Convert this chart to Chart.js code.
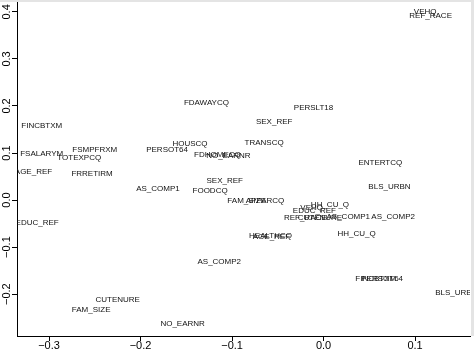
<!DOCTYPE html>
<html>
<head>
<meta charset="utf-8">
<script src="https://cdn.jsdelivr.net/npm/chart.js@4"></script>
<style>
  html, body { margin: 0; padding: 0; background: #fff; }
  canvas { display: block; }
</style>
</head>
<body>
<canvas id="biplot" width="474" height="351"></canvas>
<script>
// --- data: variable labels and their coordinates ---
const varNames = [
  'FDAWAYCQ', 'PERSLT18', 'VEHQ', 'REF_RACE', 'FINCBTXM', 'FSALARYM', 'TOTEXPCQ',
  'FSMPFRXM', 'AGE_REF', 'FRRETIRM', 'EDUC_REF', 'PERSOT64', 'HOUSCQ', 'FDHOMECQ',
  'NO_EARNR', 'AS_COMP1', 'SEX_REF', 'FOODCQ', 'FAM_SIZE', 'APPARCQ', 'SEX_REF',
  'TRANSCQ', 'ENTERTCQ', 'BLS_URBN', 'HH_CU_Q', 'AS_COMP2', 'REF_RACE', 'CUTENURE',
  'EDUC_REF', 'VEHQ', 'AS_COMP1', 'HEALTHCQ', 'AGE_REF', 'AS_COMP2', 'HH_CU_Q',
  'FINCBTXM', 'PERSOT64', 'BLS_URBN', 'CUTENURE', 'FAM_SIZE', 'NO_EARNR'
];
const xValues = [
  -0.128, -0.011, 0.111, 0.117, -0.308, -0.308, -0.267,
  -0.250, -0.317, -0.253, -0.313, -0.171, -0.146, -0.116,
  -0.104, -0.181, -0.108, -0.124, -0.084, -0.064, -0.054,
  -0.065, 0.062, 0.072, 0.007, 0.076, -0.020, -0.004,
  -0.010, -0.013, 0.027, -0.058, -0.057, -0.114, 0.036,
  0.057, 0.064, 0.145, -0.225, -0.254, -0.154
];
const yValues = [
  0.206, 0.196, 0.400, 0.391, 0.157, 0.098, 0.089,
  0.106, 0.060, 0.055, -0.049, 0.106, 0.119, 0.096,
  0.094, 0.023, 0.040, 0.019, -0.002, -0.002, 0.166,
  0.121, 0.079, 0.028, -0.011, -0.036, -0.038, -0.038,
  -0.023, -0.017, -0.036, -0.077, -0.079, -0.132, -0.072,
  -0.168, -0.168, -0.198, -0.213, -0.234, -0.264
];
const xTicks = [-0.3, -0.2, -0.1, 0.0, 0.1];
const yTicks = [-0.2, -0.1, 0.0, 0.1, 0.2, 0.3, 0.4];

const points = varNames.map((n, i) => ({ x: xValues[i], y: yValues[i] }));
const fmt = v => (v < 0 ? '\u2212' : '') + Math.abs(v).toFixed(1);

// draws the variable names at their points and the R-style tick labels
const textPlugin = {
  id: 'rtext',
  beforeDraw(chart) {
    const ctx = chart.ctx;
    ctx.save();
    ctx.fillStyle = '#fff';
    ctx.fillRect(0, 0, chart.width, chart.height);
    ctx.fillStyle = '#e4e4e4';
    ctx.fillRect(0, 0, chart.width, 2);
    ctx.fillRect(chart.chartArea.right + 1, 0, chart.width, chart.height - 15);
    ctx.restore();
  },
  afterDatasetsDraw(chart) {
    const ctx = chart.ctx;
    const area = chart.chartArea;
    const meta = chart.getDatasetMeta(0);
    ctx.save();
    ctx.beginPath();
    ctx.rect(area.left, area.top, area.right - area.left, area.bottom - area.top);
    ctx.clip();
    ctx.font = '8px "Liberation Sans", Arial, sans-serif';
    ctx.fillStyle = '#111';
    ctx.textAlign = 'center';
    ctx.textBaseline = 'middle';
    meta.data.forEach((pt, i) => ctx.fillText(varNames[i], pt.x, pt.y));
    ctx.restore();
  },
  afterDraw(chart) {
    const ctx = chart.ctx;
    const xs = chart.scales.x, ys = chart.scales.y;
    ctx.save();
    ctx.font = '11px "Liberation Sans", Arial, sans-serif';
    ctx.fillStyle = '#000';
    ctx.textAlign = 'center';
    ctx.textBaseline = 'middle';
    xTicks.forEach(v => ctx.fillText(fmt(v), xs.getPixelForValue(v), 346));
    yTicks.forEach(v => {
      ctx.save();
      ctx.translate(7, ys.getPixelForValue(v));
      ctx.rotate(-Math.PI / 2);
      ctx.fillText(fmt(v), 0, 0);
      ctx.restore();
    });
    ctx.restore();
  }
};

new Chart(document.getElementById('biplot'), {
  type: 'scatter',
  data: {
    datasets: [{ data: points, pointRadius: 0, pointHoverRadius: 0 }]
  },
  options: {
    responsive: false,
    animation: false,
    devicePixelRatio: 1,
    layout: { padding: { top: 2, right: 4, left: 0, bottom: 0 } },
    plugins: { legend: { display: false }, tooltip: { enabled: false } },
    scales: {
      x: {
        type: 'linear',
        min: -0.335,
        max: 0.16,
        afterBuildTicks: s => { s.ticks = xTicks.map(v => ({ value: v })); },
        afterFit: s => { s.height = 15; },
        ticks: { display: false },
        grid: { drawOnChartArea: false, drawTicks: true, tickLength: 5, color: '#000' },
        border: { display: true, color: '#000', width: 1 }
      },
      y: {
        type: 'linear',
        min: -0.289,
        max: 0.421,
        afterBuildTicks: s => { s.ticks = yTicks.map(v => ({ value: v })); },
        afterFit: s => { s.width = 17; },
        ticks: { display: false },
        grid: { drawOnChartArea: false, drawTicks: true, tickLength: 5, color: '#000' },
        border: { display: true, color: '#000', width: 1 }
      }
    }
  },
  plugins: [textPlugin]
});
</script>
</body>
</html>
